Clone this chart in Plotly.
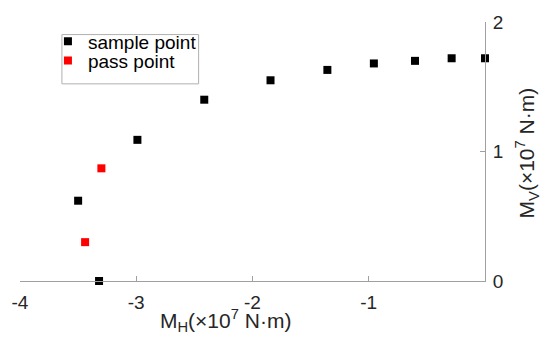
import plotly.graph_objects as go

# Sample points (black) and pass points (red), units of 1e7 N·m
sample_mh = [-3.32, -3.50, -2.99, -2.415, -1.845, -1.356, -0.956, -0.602, -0.287, 0.0]
sample_mv = [0.0, 0.62, 1.09, 1.40, 1.55, 1.63, 1.68, 1.70, 1.72, 1.72]
pass_mh = [-3.30, -3.44]
pass_mv = [0.87, 0.30]

x_ticks = [-4, -3, -2, -1]
x_ticktext = ["-4", "-3", "-2", "-1"]
y_ticks = [0, 1, 2]
y_ticktext = ["0", "1", "2"]

FONT = "Liberation Sans, Arial, sans-serif"
AXC = "#a0a0a0"
TXT = "#262626"

# plot area in pixels: left 19, right 485, top 13, bottom 281
L, R, T, B = 19, 65, 13, 65
W, H = 550, 346
PW, PH = W - L - R, H - T - B


def px(xp):
    return (xp - L) / PW


def py(yp):
    return (H - B - yp) / PH


fig = go.Figure()
fig.add_trace(go.Scatter(x=sample_mh, y=sample_mv, mode="markers", name="sample point",
                         marker=dict(symbol="square", size=8, color="#000000", line=dict(width=0)),
                         cliponaxis=False, legend="legend"))
fig.add_trace(go.Scatter(x=pass_mh, y=pass_mv, mode="markers", name="pass point",
                         marker=dict(symbol="square", size=8, color="#ff0000", line=dict(width=0)),
                         cliponaxis=False, legend="legend2"))

leg_common = dict(xanchor="left", yanchor="middle", bgcolor="rgba(0,0,0,0)", borderwidth=0,
                  font=dict(family=FONT, size=19, color="#000000"), itemsizing="trace")

fig.update_layout(
    width=W, height=H,
    margin=dict(l=L, r=R, t=T, b=B, pad=0),
    paper_bgcolor="white", plot_bgcolor="white",
    font=dict(family=FONT, color=TXT),
    showlegend=True,
    legend=dict(x=px(47), y=py(33), **leg_common),
    legend2=dict(x=px(47), y=py(53), **leg_common),
    xaxis=dict(range=[-4, 0], tickvals=x_ticks, ticktext=x_ticktext,
               showline=True, linecolor=AXC, linewidth=1, mirror=False,
               ticks="inside", ticklen=5, tickcolor=AXC, tickwidth=1,
               showgrid=False, zeroline=False,
               tickfont=dict(family=FONT, size=19, color=TXT),
               ticklabelstandoff=4),
    yaxis=dict(range=[0, 2], tickvals=y_ticks, ticktext=y_ticktext, side="right",
               showline=True, linecolor=AXC, linewidth=1, mirror=False,
               ticks="inside", ticklen=5, tickcolor=AXC, tickwidth=1,
               showgrid=False, zeroline=False,
               tickfont=dict(family=FONT, size=19, color=TXT),
               ticklabelstandoff=3),
)

# legend frame
fig.add_shape(type="rect", xref="paper", yref="paper",
              x0=px(61), x1=px(198), y0=py(77), y1=py(26),
              line=dict(color="#b0b0b0", width=1), fillcolor="rgba(0,0,0,0)", layer="above")

fig.add_annotation(text="M<sub>H</sub>(×10<sup>7</sup> N·m)", xref="paper", yref="paper",
                   x=px(224.7), y=py(322), xanchor="center", yanchor="middle", showarrow=False,
                   font=dict(family=FONT, size=21, color=TXT))
fig.add_annotation(text="M<sub>V</sub>(×10<sup>7</sup> N·m)", xref="paper", yref="paper",
                   x=px(527), y=py(148), xanchor="center", yanchor="middle", showarrow=False,
                   textangle=-90,
                   font=dict(family=FONT, size=21, color=TXT))

fig.write_html("out.html", config={"displayModeBar": False},
               post_script="document.body.style.margin='0px';document.body.style.padding='0px';"
                           "document.body.style.overflow='hidden';")
